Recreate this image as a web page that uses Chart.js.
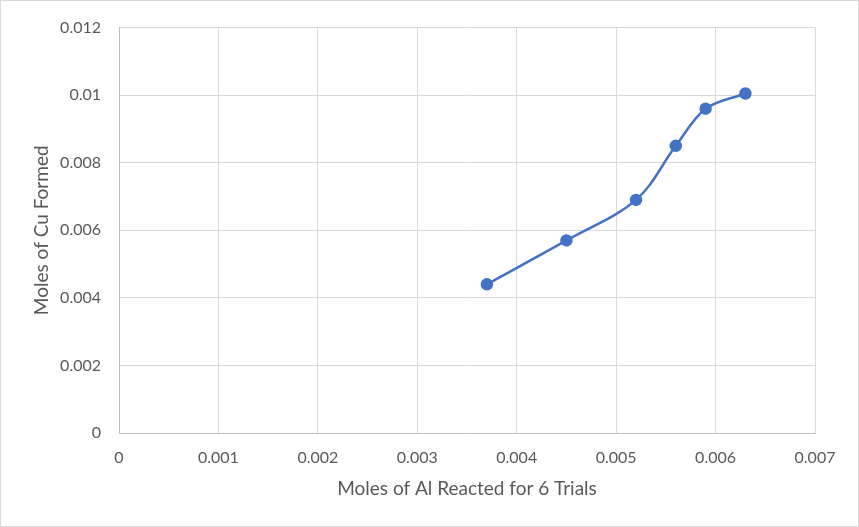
<!DOCTYPE html>
<html>
<head>
<meta charset="utf-8">
<script src="https://cdn.jsdelivr.net/npm/chart.js@4.4.0/dist/chart.umd.min.js"></script>
<style>
  html, body { margin: 0; padding: 0; background: #fff; }
  canvas { display: block; }
</style>
</head>
<body>
<canvas id="chart" width="859" height="527"></canvas>
<script>
// Moles of Al reacted vs moles of Cu formed, 6 trials
const molesAl = [0.0037, 0.0045, 0.0052, 0.0056, 0.0059, 0.0063];
const molesCu = [0.0044, 0.0057, 0.0069, 0.0085, 0.0096, 0.01005];

const xTitle = 'Moles of Al Reacted for 6 Trials';
const yTitle = 'Moles of Cu Formed';

const textColor = '#595959';
const gridColor = '#d9d9d9';
const lineColor = '#4472c4';

const frame = {
  id: 'frame',
  beforeDraw(chart) {
    const ctx = chart.ctx;
    ctx.save();
    ctx.fillStyle = '#fff';
    ctx.fillRect(0, 0, chart.width, chart.height);
    ctx.restore();
  },
  afterDraw(chart) {
    const ctx = chart.ctx;
    ctx.save();
    ctx.strokeStyle = gridColor;
    ctx.lineWidth = 1;
    ctx.strokeRect(0.5, 0.5, chart.width - 1, chart.height - 1);
    ctx.restore();
  }
};

const points = molesAl.map((x, i) => ({ x, y: molesCu[i] }));

new Chart(document.getElementById('chart'), {
  type: 'scatter',
  data: {
    datasets: [{
      data: points,
      showLine: true,
      tension: 0.35,
      borderColor: lineColor,
      backgroundColor: lineColor,
      borderWidth: 2.5,
      pointRadius: 5,
      pointHoverRadius: 5
    }]
  },
  options: {
    responsive: false,
    devicePixelRatio: 1,
    animation: false,
    layout: { padding: { left: 0, top: 24, right: 44, bottom: 0 } },
    plugins: {
      legend: { display: false },
      tooltip: { enabled: false }
    },
    scales: {
      x: {
        type: 'linear',
        min: 0,
        max: 0.007,
        afterFit(scale) { scale.height = 94; },
        grid: { color: gridColor, drawTicks: false },
        border: { color: '#bfbfbf' },
        ticks: {
          stepSize: 0.001,
          padding: 15,
          color: textColor,
          font: { family: 'Lato', size: 16 },
          callback: v => +v.toFixed(3) + ''
        },
        title: {
          display: true,
          text: xTitle,
          color: textColor,
          font: { family: 'Lato', size: 19 },
          padding: { top: 0, bottom: 27 }
        }
      },
      y: {
        type: 'linear',
        min: 0,
        max: 0.012,
        afterFit(scale) { scale.width = 119; },
        grid: { color: gridColor, drawTicks: false },
        border: { color: '#bfbfbf' },
        ticks: {
          stepSize: 0.002,
          padding: 18,
          color: textColor,
          font: { family: 'Lato', size: 16 },
          callback: v => +v.toFixed(3) + ''
        },
        title: {
          display: true,
          text: yTitle,
          color: textColor,
          font: { family: 'Lato', size: 19 },
          padding: { top: 30, bottom: 0 }
        }
      }
    }
  },
  plugins: [frame]
});
</script>
</body>
</html>
